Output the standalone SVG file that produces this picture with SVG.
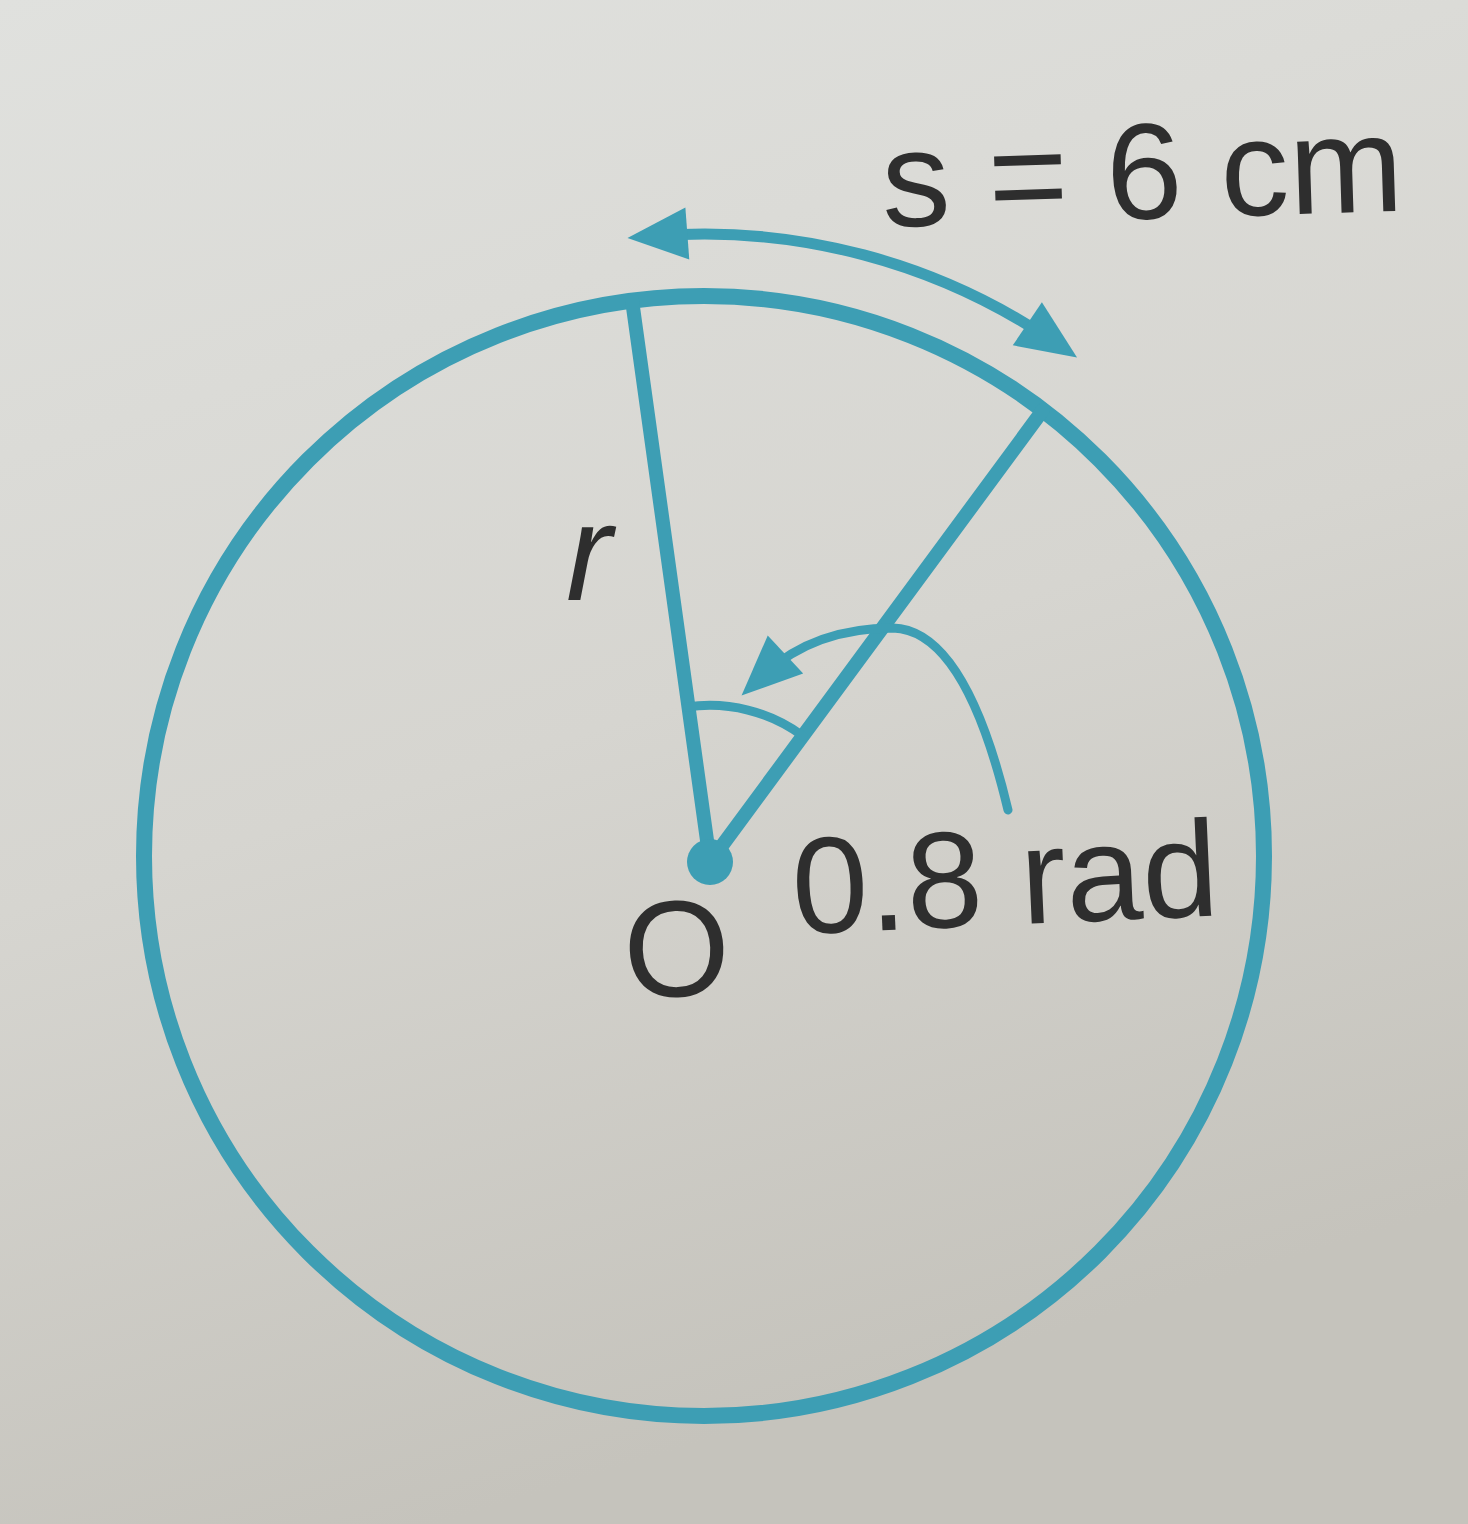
<svg xmlns="http://www.w3.org/2000/svg" width="1468" height="1524" viewBox="0 0 1468 1524">
  <defs>
    <linearGradient id="bg" x1="0" y1="0" x2="0.3" y2="1">
      <stop offset="0" stop-color="#e0e1de"/>
      <stop offset="0.55" stop-color="#d6d5d0"/>
      <stop offset="1" stop-color="#c5c3bc"/>
    </linearGradient>
    <marker id="ah" markerUnits="userSpaceOnUse" orient="auto-start-reverse" markerWidth="1" markerHeight="1" refX="0" refY="0" style="overflow:visible">
      <path d="M-30,-26 L30,0 L-30,26 Z" fill="#3d9eb4"/>
    </marker>
    <style>
      .teal { fill: none; stroke: #3d9eb4; stroke-linecap: round; }
      .lbl { font-family: "Liberation Sans", Arial, sans-serif; fill: #2e2e2e; font-size: 137px; }
    </style>
  </defs>
  <rect width="1468" height="1524" fill="url(#bg)"/>

  <g id="circle">
    <circle class="teal" cx="704" cy="856" r="560" stroke-width="16"/>
  </g>

  <g id="connectors">
    <line id="radius-r" class="teal" x1="710" y1="862" x2="632" y2="300" stroke-width="14"/>
    <line id="radius-2" class="teal" x1="710" y1="862" x2="1043" y2="410" stroke-width="14"/>
    <path id="angle-arc" class="teal" d="M687,707 A157,157 0 0 1 803,736" stroke-width="9"/>
    <path id="arc-length" class="teal" d="M657.4,235.8 A622,622 0 0 1 1052.2,340.6" stroke-width="11" stroke-linecap="butt" marker-start="url(#ah)" marker-end="url(#ah)"/>
    <path id="angle-pointer" class="teal" d="M1008,810 Q965,630 893,628 Q814,628 763.5,675" stroke-width="9" stroke-linecap="butt" marker-end="url(#ah)"/>
  </g>

  <g id="center-O">
    <circle cx="710" cy="862" r="23" fill="#3d9eb4"/>
  </g>

  <g id="labels">
    <text class="lbl" x="883" y="227" transform="rotate(-1.8 883 227)">s = 6 cm</text>
    <text class="lbl" x="794" y="934" transform="rotate(-2.5 794 934)">0.8 rad</text>
    <text class="lbl" x="625" y="998" transform="rotate(-2 625 998)">O</text>
    <text class="lbl" x="566" y="600" font-style="italic" font-size="148">r</text>
  </g>
</svg>
